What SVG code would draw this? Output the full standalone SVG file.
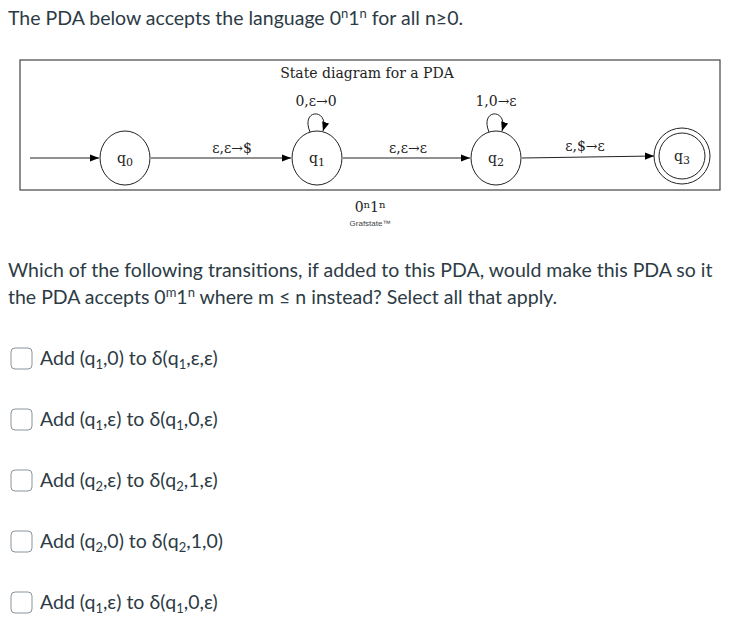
<svg xmlns="http://www.w3.org/2000/svg" width="731" height="630" viewBox="0 0 731 630">
<defs>
<marker id="ah" viewBox="0 0 10 10" refX="10" refY="5" markerWidth="9" markerHeight="9" markerUnits="userSpaceOnUse" orient="auto"><path d="M0,1 L10,5 L0,9 z" fill="#000"/></marker>
<style>
.t{font-family:Lato,"Open Sans",sans-serif;font-size:19.5px;fill:#2d3b45}
.d{font-family:"DejaVu Serif","Liberation Serif",serif;font-size:14px;fill:#222}
.n{fill:#fff;stroke:#222;stroke-width:1}
.e{fill:none;stroke:#222;stroke-width:1;marker-end:url(#ah)}
.cb{fill:#fff;stroke:#8a949c;stroke-width:1}
</style>
</defs>
<rect width="731" height="630" fill="#fff"/>
<text class="t" x="8" y="25">The PDA below accepts the language 0<tspan font-size="13" dy="-7">n</tspan><tspan dy="7">1</tspan><tspan font-size="13" dy="-7">n</tspan><tspan dy="7"> for all n≥0.</tspan></text>
<rect x="20" y="60" width="700" height="130" fill="#fff" stroke="#444" stroke-width="1.2"/>
<text class="d" x="367" y="78" text-anchor="middle" font-size="15">State diagram for a PDA</text>
<g id="connectors">
<line class="e" x1="30" y1="158" x2="99" y2="158"/>
<line class="e" x1="151" y1="158" x2="291" y2="158"/>
<line class="e" x1="343" y1="158" x2="470" y2="158"/>
<line class="e" x1="522" y1="158" x2="654" y2="156"/>
<path class="e" d="M310,132 C300,108 330,108 323,131"/>
<path class="e" d="M489,132 C479,108 509,108 502,131"/>
<text class="d" x="232" y="153" text-anchor="middle">ε,ε→$</text>
<text class="d" x="408" y="153" text-anchor="middle">ε,ε→ε</text>
<text class="d" x="585" y="151" text-anchor="middle">ε,$→ε</text>
<text class="d" x="316" y="106" text-anchor="middle">0,ε→0</text>
<text class="d" x="496" y="106" text-anchor="middle">1,0→ε</text>
</g>
<g id="q0"><ellipse class="n" cx="125" cy="158" rx="25" ry="27"/><text class="d" x="125" y="163" text-anchor="middle">q<tspan font-size="11" dy="3">0</tspan></text></g>
<g id="q1"><ellipse class="n" cx="317" cy="158" rx="25" ry="27"/><text class="d" x="317" y="163" text-anchor="middle">q<tspan font-size="11" dy="3">1</tspan></text></g>
<g id="q2"><ellipse class="n" cx="496" cy="158" rx="25" ry="27"/><text class="d" x="496" y="163" text-anchor="middle">q<tspan font-size="11" dy="3">2</tspan></text></g>
<g id="q3"><ellipse class="n" cx="682" cy="156" rx="28" ry="28"/><ellipse class="n" cx="682" cy="156" rx="23" ry="23"/><text class="d" x="682" y="161" text-anchor="middle">q<tspan font-size="11" dy="3">3</tspan></text></g>
<text class="d" x="370" y="212" text-anchor="middle">0<tspan font-size="10" dy="-4">n</tspan><tspan dy="4">1</tspan><tspan font-size="10" dy="-4">n</tspan></text>
<text x="370" y="226" text-anchor="middle" font-family="Liberation Sans,sans-serif" font-size="8" fill="#444">Grafstate™</text>
<text class="t" x="8" y="277">Which of the following transitions, if added to this PDA, would make this PDA so it</text>
<text class="t" x="8" y="304">the PDA accepts 0<tspan font-size="13" dy="-7">m</tspan><tspan dy="7">1</tspan><tspan font-size="13" dy="-7">n</tspan><tspan dy="7"> where m ≤ n instead? Select all that apply.</tspan></text>
<g id="opt1"><rect class="cb" x="11" y="348" width="21" height="21" rx="4"/><text class="t" x="40" y="365">Add (q<tspan font-size="13" dy="4">1</tspan><tspan dy="-4">,0) to δ(q</tspan><tspan font-size="13" dy="4">1</tspan><tspan dy="-4">,ε,ε)</tspan></text></g>
<g id="opt2"><rect class="cb" x="11" y="409" width="21" height="21" rx="4"/><text class="t" x="40" y="426">Add (q<tspan font-size="13" dy="4">1</tspan><tspan dy="-4">,ε) to δ(q</tspan><tspan font-size="13" dy="4">1</tspan><tspan dy="-4">,0,ε)</tspan></text></g>
<g id="opt3"><rect class="cb" x="11" y="470" width="21" height="21" rx="4"/><text class="t" x="40" y="487">Add (q<tspan font-size="13" dy="4">2</tspan><tspan dy="-4">,ε) to δ(q</tspan><tspan font-size="13" dy="4">2</tspan><tspan dy="-4">,1,ε)</tspan></text></g>
<g id="opt4"><rect class="cb" x="11" y="531" width="21" height="21" rx="4"/><text class="t" x="40" y="548">Add (q<tspan font-size="13" dy="4">2</tspan><tspan dy="-4">,0) to δ(q</tspan><tspan font-size="13" dy="4">2</tspan><tspan dy="-4">,1,0)</tspan></text></g>
<g id="opt5"><rect class="cb" x="11" y="592" width="21" height="21" rx="4"/><text class="t" x="40" y="609">Add (q<tspan font-size="13" dy="4">1</tspan><tspan dy="-4">,ε) to δ(q</tspan><tspan font-size="13" dy="4">1</tspan><tspan dy="-4">,0,ε)</tspan></text></g>
</svg>
